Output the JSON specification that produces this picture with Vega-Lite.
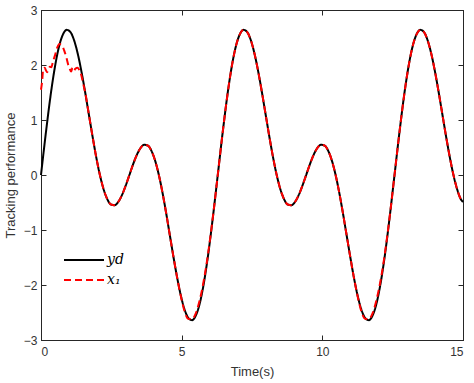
{
"$schema": "https://vega.github.io/schema/vega-lite/v6.json",
"width": 422, "height": 330,
"autosize": {"type": "none"},
"padding": {"left": 41, "top": 10, "right": 11, "bottom": 43},
"background": "white",
"config": {
  "view": {"stroke": "#262626", "strokeWidth": 1},
  "axis": {"grid": false, "domainColor": "#262626", "tickColor": "#262626", "tickSize": -5, "labelPadding": 9, "labelFont": "Liberation Sans", "labelFontSize": 12, "labelColor": "#333333", "titleFont": "Liberation Sans", "titleFontSize": 13, "titleFontWeight": "normal", "titleColor": "#333333"}
},
"data": {"values": [
{"s":"yd","t":0,"v":0},{"s":"yd","t":0.131,"v":0.584},{"s":"yd","t":0.262,"v":1.138},{"s":"yd","t":0.393,"v":1.635},{"s":"yd","t":0.524,"v":2.049},{"s":"yd","t":0.654,"v":2.362},{"s":"yd","t":0.785,"v":2.561},{"s":"yd","t":0.916,"v":2.639},{"s":"yd","t":1.047,"v":2.598},{"s":"yd","t":1.178,"v":2.447},{"s":"yd","t":1.309,"v":2.199},{"s":"yd","t":1.44,"v":1.875},{"s":"yd","t":1.571,"v":1.5},{"s":"yd","t":1.702,"v":1.099},{"s":"yd","t":1.833,"v":0.699},{"s":"yd","t":1.963,"v":0.325},{"s":"yd","t":2.094,"v":0},{"s":"yd","t":2.225,"v":-0.259},{"s":"yd","t":2.356,"v":-0.439},{"s":"yd","t":2.487,"v":-0.536},{"s":"yd","t":2.618,"v":-0.549},{"s":"yd","t":2.749,"v":-0.487},{"s":"yd","t":2.88,"v":-0.362},{"s":"yd","t":3.011,"v":-0.192},{"s":"yd","t":3.142,"v":0},{"s":"yd","t":3.272,"v":0.192},{"s":"yd","t":3.403,"v":0.362},{"s":"yd","t":3.534,"v":0.487},{"s":"yd","t":3.665,"v":0.549},{"s":"yd","t":3.796,"v":0.536},{"s":"yd","t":3.927,"v":0.439},{"s":"yd","t":4.058,"v":0.259},{"s":"yd","t":4.189,"v":0},{"s":"yd","t":4.32,"v":-0.325},{"s":"yd","t":4.451,"v":-0.699},{"s":"yd","t":4.581,"v":-1.099},{"s":"yd","t":4.712,"v":-1.5},{"s":"yd","t":4.843,"v":-1.875},{"s":"yd","t":4.974,"v":-2.199},{"s":"yd","t":5.105,"v":-2.447},{"s":"yd","t":5.236,"v":-2.598},{"s":"yd","t":5.367,"v":-2.639},{"s":"yd","t":5.498,"v":-2.561},{"s":"yd","t":5.629,"v":-2.362},{"s":"yd","t":5.76,"v":-2.049},{"s":"yd","t":5.89,"v":-1.635},{"s":"yd","t":6.021,"v":-1.138},{"s":"yd","t":6.152,"v":-0.584},{"s":"yd","t":6.283,"v":0},{"s":"yd","t":6.414,"v":0.584},{"s":"yd","t":6.545,"v":1.138},{"s":"yd","t":6.676,"v":1.635},{"s":"yd","t":6.807,"v":2.049},{"s":"yd","t":6.938,"v":2.362},{"s":"yd","t":7.069,"v":2.561},{"s":"yd","t":7.199,"v":2.639},{"s":"yd","t":7.33,"v":2.598},{"s":"yd","t":7.461,"v":2.447},{"s":"yd","t":7.592,"v":2.199},{"s":"yd","t":7.723,"v":1.875},{"s":"yd","t":7.854,"v":1.5},{"s":"yd","t":7.985,"v":1.099},{"s":"yd","t":8.116,"v":0.699},{"s":"yd","t":8.247,"v":0.325},{"s":"yd","t":8.378,"v":0},{"s":"yd","t":8.508,"v":-0.259},{"s":"yd","t":8.639,"v":-0.439},{"s":"yd","t":8.77,"v":-0.536},{"s":"yd","t":8.901,"v":-0.549},{"s":"yd","t":9.032,"v":-0.487},{"s":"yd","t":9.163,"v":-0.362},{"s":"yd","t":9.294,"v":-0.192},{"s":"yd","t":9.425,"v":0},{"s":"yd","t":9.556,"v":0.192},{"s":"yd","t":9.687,"v":0.362},{"s":"yd","t":9.817,"v":0.487},{"s":"yd","t":9.948,"v":0.549},{"s":"yd","t":10.079,"v":0.536},{"s":"yd","t":10.21,"v":0.439},{"s":"yd","t":10.341,"v":0.259},{"s":"yd","t":10.472,"v":0},{"s":"yd","t":10.603,"v":-0.325},{"s":"yd","t":10.734,"v":-0.699},{"s":"yd","t":10.865,"v":-1.099},{"s":"yd","t":10.996,"v":-1.5},{"s":"yd","t":11.126,"v":-1.875},{"s":"yd","t":11.257,"v":-2.199},{"s":"yd","t":11.388,"v":-2.447},{"s":"yd","t":11.519,"v":-2.598},{"s":"yd","t":11.65,"v":-2.639},{"s":"yd","t":11.781,"v":-2.561},{"s":"yd","t":11.912,"v":-2.362},{"s":"yd","t":12.043,"v":-2.049},{"s":"yd","t":12.174,"v":-1.635},{"s":"yd","t":12.305,"v":-1.138},{"s":"yd","t":12.435,"v":-0.584},{"s":"yd","t":12.566,"v":0},{"s":"yd","t":12.697,"v":0.584},{"s":"yd","t":12.828,"v":1.138},{"s":"yd","t":12.959,"v":1.635},{"s":"yd","t":13.09,"v":2.049},{"s":"yd","t":13.221,"v":2.362},{"s":"yd","t":13.352,"v":2.561},{"s":"yd","t":13.483,"v":2.639},{"s":"yd","t":13.614,"v":2.598},{"s":"yd","t":13.744,"v":2.447},{"s":"yd","t":13.875,"v":2.199},{"s":"yd","t":14.006,"v":1.875},{"s":"yd","t":14.137,"v":1.5},{"s":"yd","t":14.268,"v":1.099},{"s":"yd","t":14.399,"v":0.699},{"s":"yd","t":14.53,"v":0.325},{"s":"yd","t":14.661,"v":0},{"s":"yd","t":14.792,"v":-0.259},{"s":"yd","t":14.923,"v":-0.439},{"s":"yd","t":15,"v":-0.49},
{"s":"x₁","t":0,"v":1.55},{"s":"x₁","t":0.04,"v":1.7},{"s":"x₁","t":0.08,"v":1.93},{"s":"x₁","t":0.13,"v":1.95},{"s":"x₁","t":0.18,"v":1.9},{"s":"x₁","t":0.22,"v":1.87},{"s":"x₁","t":0.27,"v":1.93},{"s":"x₁","t":0.32,"v":1.97},{"s":"x₁","t":0.37,"v":1.96},{"s":"x₁","t":0.42,"v":2.05},{"s":"x₁","t":0.5,"v":2.18},{"s":"x₁","t":0.58,"v":2.32},{"s":"x₁","t":0.66,"v":2.38},{"s":"x₁","t":0.74,"v":2.36},{"s":"x₁","t":0.82,"v":2.27},{"s":"x₁","t":0.9,"v":2.14},{"s":"x₁","t":0.97,"v":2.0},{"s":"x₁","t":1.02,"v":1.93},{"s":"x₁","t":1.07,"v":1.88},{"s":"x₁","t":1.12,"v":1.95},{"s":"x₁","t":1.17,"v":1.9},{"s":"x₁","t":1.22,"v":1.93},{"s":"x₁","t":1.3,"v":1.95},{"s":"x₁","t":1.37,"v":1.9},{"s":"x₁","t":1.44,"v":1.8},{"s":"x₁","t":1.5,"v":1.66},{"s":"x₁","t":1.571,"v":1.5},
{"s":"x₁","t":1.702,"v":1.099},{"s":"x₁","t":1.833,"v":0.699},{"s":"x₁","t":1.963,"v":0.325},{"s":"x₁","t":2.094,"v":0},{"s":"x₁","t":2.225,"v":-0.259},{"s":"x₁","t":2.356,"v":-0.439},{"s":"x₁","t":2.487,"v":-0.536},{"s":"x₁","t":2.618,"v":-0.549},{"s":"x₁","t":2.749,"v":-0.487},{"s":"x₁","t":2.88,"v":-0.362},{"s":"x₁","t":3.011,"v":-0.192},{"s":"x₁","t":3.142,"v":0},{"s":"x₁","t":3.272,"v":0.192},{"s":"x₁","t":3.403,"v":0.362},{"s":"x₁","t":3.534,"v":0.487},{"s":"x₁","t":3.665,"v":0.549},{"s":"x₁","t":3.796,"v":0.536},{"s":"x₁","t":3.927,"v":0.439},{"s":"x₁","t":4.058,"v":0.259},{"s":"x₁","t":4.189,"v":0},{"s":"x₁","t":4.32,"v":-0.325},{"s":"x₁","t":4.451,"v":-0.699},{"s":"x₁","t":4.581,"v":-1.099},{"s":"x₁","t":4.712,"v":-1.5},{"s":"x₁","t":4.843,"v":-1.875},{"s":"x₁","t":4.974,"v":-2.21},{"s":"x₁","t":5.105,"v":-2.48},{"s":"x₁","t":5.236,"v":-2.615},{"s":"x₁","t":5.367,"v":-2.62},{"s":"x₁","t":5.498,"v":-2.52},{"s":"x₁","t":5.629,"v":-2.3},{"s":"x₁","t":5.76,"v":-1.99},{"s":"x₁","t":5.89,"v":-1.6},{"s":"x₁","t":6.021,"v":-1.12},{"s":"x₁","t":6.152,"v":-0.584},{"s":"x₁","t":6.283,"v":0},{"s":"x₁","t":6.414,"v":0.584},{"s":"x₁","t":6.545,"v":1.138},{"s":"x₁","t":6.676,"v":1.635},{"s":"x₁","t":6.807,"v":2.049},{"s":"x₁","t":6.938,"v":2.362},{"s":"x₁","t":7.069,"v":2.561},{"s":"x₁","t":7.199,"v":2.639},{"s":"x₁","t":7.33,"v":2.598},{"s":"x₁","t":7.461,"v":2.447},{"s":"x₁","t":7.592,"v":2.199},{"s":"x₁","t":7.723,"v":1.875},{"s":"x₁","t":7.854,"v":1.5},{"s":"x₁","t":7.985,"v":1.099},{"s":"x₁","t":8.116,"v":0.699},{"s":"x₁","t":8.247,"v":0.325},{"s":"x₁","t":8.378,"v":0},{"s":"x₁","t":8.508,"v":-0.259},{"s":"x₁","t":8.639,"v":-0.439},{"s":"x₁","t":8.77,"v":-0.536},{"s":"x₁","t":8.901,"v":-0.549},{"s":"x₁","t":9.032,"v":-0.487},{"s":"x₁","t":9.163,"v":-0.362},{"s":"x₁","t":9.294,"v":-0.192},{"s":"x₁","t":9.425,"v":0},{"s":"x₁","t":9.556,"v":0.192},{"s":"x₁","t":9.687,"v":0.362},{"s":"x₁","t":9.817,"v":0.487},{"s":"x₁","t":9.948,"v":0.549},{"s":"x₁","t":10.079,"v":0.536},{"s":"x₁","t":10.21,"v":0.439},{"s":"x₁","t":10.341,"v":0.259},{"s":"x₁","t":10.472,"v":0},{"s":"x₁","t":10.603,"v":-0.325},{"s":"x₁","t":10.734,"v":-0.699},{"s":"x₁","t":10.865,"v":-1.099},{"s":"x₁","t":10.996,"v":-1.5},{"s":"x₁","t":11.126,"v":-1.875},{"s":"x₁","t":11.257,"v":-2.21},{"s":"x₁","t":11.388,"v":-2.48},{"s":"x₁","t":11.519,"v":-2.615},{"s":"x₁","t":11.65,"v":-2.62},{"s":"x₁","t":11.781,"v":-2.52},{"s":"x₁","t":11.912,"v":-2.3},{"s":"x₁","t":12.043,"v":-1.99},{"s":"x₁","t":12.174,"v":-1.6},{"s":"x₁","t":12.305,"v":-1.12},{"s":"x₁","t":12.435,"v":-0.584},{"s":"x₁","t":12.566,"v":0},{"s":"x₁","t":12.697,"v":0.584},{"s":"x₁","t":12.828,"v":1.138},{"s":"x₁","t":12.959,"v":1.635},{"s":"x₁","t":13.09,"v":2.049},{"s":"x₁","t":13.221,"v":2.362},{"s":"x₁","t":13.352,"v":2.561},{"s":"x₁","t":13.483,"v":2.639},{"s":"x₁","t":13.614,"v":2.598},{"s":"x₁","t":13.744,"v":2.447},{"s":"x₁","t":13.875,"v":2.199},{"s":"x₁","t":14.006,"v":1.875},{"s":"x₁","t":14.137,"v":1.5},{"s":"x₁","t":14.268,"v":1.099},{"s":"x₁","t":14.399,"v":0.699},{"s":"x₁","t":14.53,"v":0.325},{"s":"x₁","t":14.661,"v":0},{"s":"x₁","t":14.792,"v":-0.259},{"s":"x₁","t":14.923,"v":-0.439},{"s":"x₁","t":15,"v":-0.49}
]},
"layer": [
  {
    "mark": {"type": "line", "interpolate": "monotone", "strokeWidth": 2},
    "encoding": {
      "x": {"field": "t", "type": "quantitative", "scale": {"domain": [0, 15], "nice": false, "zero": false}, "axis": {"values": [0, 5, 10, 15], "title": "Time(s)", "labelPadding": 11, "titlePadding": 8}},
      "y": {"field": "v", "type": "quantitative", "scale": {"domain": [-3, 3], "nice": false}, "axis": {"values": [-3, -2, -1, 0, 1, 2, 3], "title": "Tracking performance", "titlePadding": 6}},
      "color": {"field": "s", "type": "nominal", "sort": ["yd", "x₁"], "scale": {"domain": ["yd", "x₁"], "range": ["#000000", "#ff0000"]},
        "legend": {"orient": "none", "legendX": 22, "legendY": 243, "title": null, "symbolType": "stroke", "symbolSize": 1600, "symbolStrokeWidth": 2, "clipHeight": 14, "rowPadding": 6, "padding": 0, "labelOffset": 2, "labelFont": "DejaVu Serif", "labelFontStyle": "italic", "labelFontSize": 14, "labelColor": "#000000"}},
      "strokeDash": {"field": "s", "type": "nominal", "sort": ["yd", "x₁"], "scale": {"domain": ["yd", "x₁"], "range": [[1, 0], [7, 4]]}}
    }
  },
  {
    "mark": {"type": "line", "opacity": 0},
    "encoding": {
      "x": {"field": "t", "type": "quantitative", "axis": {"orient": "top", "values": [0, 5, 10, 15], "labels": false, "title": null}},
      "y": {"field": "v", "type": "quantitative", "axis": {"orient": "right", "values": [-3, -2, -1, 0, 1, 2, 3], "labels": false, "title": null}}
    }
  }
],
"resolve": {"axis": {"x": "independent", "y": "independent"}}
}
